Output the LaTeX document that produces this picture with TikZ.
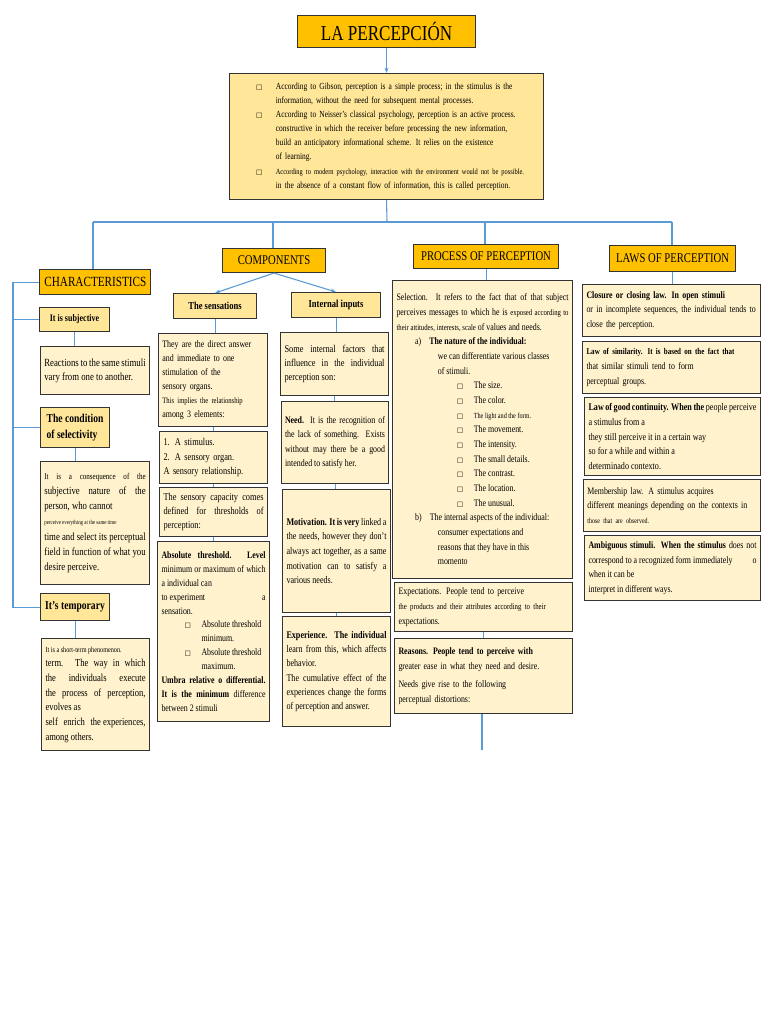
\documentclass[tikz,border=0pt]{standalone}
\usepackage{fontspec}
\setmainfont{Liberation Serif}[FakeStretch=0.8]
\newfontfamily\symf{DejaVu Sans}
\newcommand\bul{{\symf\fontsize{5}{5}\selectfont □}\hspace{4pt}}
\definecolor{hdr}{HTML}{FFC000}
\definecolor{sub}{HTML}{FFE699}
\definecolor{bod}{HTML}{FFF2CC}
\definecolor{ln}{HTML}{5B9BD5}
\usetikzlibrary{arrows.meta}
\tikzset{
 base/.style={draw=black!80, line width=0.8pt, anchor=north west, inner sep=2.5pt, align=left, font=\fontsize{7.5}{10}\selectfont},
 hdrbox/.style={base, fill=hdr, align=center, font=\fontsize{10}{11}\selectfont},
 subbox/.style={base, fill=sub, align=left, font=\fontsize{8}{10}\selectfont\bfseries},
 bodbox/.style={base, fill=bod},
 conn/.style={draw=ln, line width=0.8pt},
 arr/.style={conn, -{Stealth[length=4pt]}}
}
\begin{document}
\begin{tikzpicture}[x=0.75pt,y=-0.75pt]
\lefthyphenmin=64 \righthyphenmin=64
\useasboundingbox (0,0) rectangle (768,1024);
\fill[white] (0,0) rectangle (768,1024);
\coordinate (L) at (13,0);
% title
\node[hdrbox, minimum width=178*0.75pt, minimum height=32*0.75pt, font=\fontsize{16}{17}\selectfont] (title) at (297,15) {LA PERCEPCIÓN};
\node[base, fill=sub, minimum width=314*0.75pt, minimum height=126*0.75pt, text width=226pt, font=\fontsize{7}{10.6}\selectfont] (intro) at (229,73) {%
\hspace*{30pt}\llap{\bul\hspace{6pt}}According to Gibson, perception is a simple process; in the stimulus is the\\
\hspace*{30pt}information, without the need for subsequent mental processes.\\
\hspace*{30pt}\llap{\bul\hspace{6pt}}According to Neisser's classical psychology, perception is an active process.\\
\hspace*{30pt}constructive in which the receiver before processing the new information,\\
\hspace*{30pt}build an anticipatory informational scheme. It relies on the existence\\
\hspace*{30pt}of learning.\\
\hspace*{30pt}\llap{\bul\hspace{6pt}}{\fontsize{6}{10.6}\selectfont According to modern psychology, interaction with the environment would not be possible.}\\
\hspace*{30pt}in the absence of a constant flow of information, this is called perception.};
\draw[arr] (title.south) -- (intro.north);
% headers
\node[hdrbox, minimum width=111*0.75pt, minimum height=25*0.75pt, text width=76pt, font=\fontsize{10.5}{11}\selectfont] (char) at (39,269) {CHARACTERISTICS};
\node[hdrbox, minimum width=103*0.75pt, minimum height=24*0.75pt] (comp) at (222,248) {COMPONENTS};
\node[hdrbox, minimum width=145*0.75pt, minimum height=24*0.75pt] (proc) at (413,244) {PROCESS OF PERCEPTION};
\node[hdrbox, minimum width=126*0.75pt, minimum height=26*0.75pt] (laws) at (609,245) {LAWS OF PERCEPTION};
\coordinate (hub) at (387,222);
\draw[conn] (intro.south) -- (hub);
\draw[conn] (93,222) -- (672,222);
\draw[conn] (93,222) -- (93,269);
\draw[conn] (273,222) -- (273,248);
\draw[conn] (485,222) -- (485,244);
\draw[conn] (672,222) -- (672,245);
% components subs
\node[subbox, minimum width=83*0.75pt, minimum height=25*0.75pt, align=center] (sens) at (173,293) {The sensations};
\node[subbox, minimum width=89*0.75pt, minimum height=25*0.75pt, align=center] (intin) at (291,292) {Internal inputs};
\draw[arr] (comp.south) -- (sens.north);
\draw[arr] (comp.south) -- (intin.north);
% characteristics
\node[subbox, minimum width=70*0.75pt, minimum height=24*0.75pt, font=\fontsize{7.5}{10}\selectfont\bfseries] (subj) at (39,307) {It is subjective};
\node[bodbox, minimum width=109*0.75pt, minimum height=48*0.75pt, text width=76pt, align=justify, font=\fontsize{8.2}{10.5}\selectfont] (react) at (40,346) {Reactions to the same stimuli vary from one to another.};
\node[subbox, minimum width=69*0.75pt, minimum height=40*0.75pt, font=\fontsize{9}{12.5}\selectfont\bfseries] (sel) at (40,407) {The condition\\of selectivity};
\node[bodbox, minimum width=109*0.75pt, minimum height=123*0.75pt, text width=76pt, align=justify, font=\fontsize{8.2}{11.3}\selectfont] (cons) at (40,461) {{\fontsize{6.6}{11.3}\selectfont It is a consequence of the} subjective nature of the person, who cannot\\{\fontsize{4.6}{11.3}\selectfont perceive everything at the same time}\\time and select its perceptual field in function of what you desire perceive.};
\node[subbox, minimum width=69*0.75pt, minimum height=27*0.75pt, font=\fontsize{9}{11}\selectfont\bfseries] (temp) at (40,593) {It's temporary};
\node[bodbox, minimum width=108*0.75pt, minimum height=112*0.75pt, text width=75pt, align=justify, font=\fontsize{8}{11}\selectfont] (short) at (41,638) {{\fontsize{5.8}{11}\selectfont It is a short-term phenomenon.}\\term. The way in which the individuals execute the process of perception, evolves as\\self \hfill enrich \hfill the experiences, among others.};
\draw[conn] (char.west) -- (L |- char.west) -- (L |- temp.west) -- (temp.west);
\draw[conn] (L |- subj.west) -- (subj.west);
\draw[conn] (L |- sel.west) -- (sel.west);
\draw[conn] (subj.south) -- (subj.south |- react.north);
\draw[conn] (sel.south) -- (sel.south |- cons.north);
\draw[conn] (temp.south) -- (temp.south |- short.north);
% sensations column
\node[bodbox, minimum width=109*0.75pt, minimum height=93*0.75pt, text width=76pt, font=\fontsize{7.4}{10.6}\selectfont] (s1) at (158,333) {They are the direct answer and immediate to one\\stimulation of the\\sensory organs.\\{\fontsize{6.2}{10.6}\selectfont This implies the relationship}\\among 3 elements:};
\node[bodbox, minimum width=108*0.75pt, minimum height=52*0.75pt, text width=75pt, font=\fontsize{7.8}{10.6}\selectfont] (s2) at (159,431) {1. A stimulus.\\2. A sensory organ.\\A sensory relationship.};
\node[bodbox, minimum width=108*0.75pt, minimum height=49*0.75pt, text width=75pt, align=justify, font=\fontsize{7.8}{10.6}\selectfont] (s3) at (159,487) {The sensory capacity comes defined for thresholds of perception:};
\node[bodbox, minimum width=112*0.75pt, minimum height=180*0.75pt, text width=78pt, align=justify, font=\fontsize{7.4}{10.4}\selectfont] (s4) at (157,541) {\textbf{Absolute threshold. Level} minimum or maximum of which a individual can\\to experiment \hfill a\\sensation.\\
\hspace*{30pt}\llap{\bul\hspace{4pt}}Absolute threshold\\\hspace*{30pt}minimum.\\
\hspace*{30pt}\llap{\bul\hspace{4pt}}Absolute threshold\\\hspace*{30pt}maximum.\\
\textbf{Umbra relative o differential. It is the minimum} difference between 2 stimuli};
\draw[conn] (sens.south) -- (sens.south |- s1.north);
\draw[conn] (s1.south) -- (s1.south |- s2.north);
\draw[conn] (s2.south) -- (s2.south |- s3.north);
\draw[conn] (s3.south) -- (s3.south |- s4.north);
% internal column
\node[bodbox, minimum width=108*0.75pt, minimum height=63*0.75pt, text width=75pt, align=justify, font=\fontsize{7.8}{10.8}\selectfont] (i1) at (280,332) {Some internal factors that influence in the individual perception son:};
\node[bodbox, minimum width=107*0.75pt, minimum height=82*0.75pt, text width=75pt, align=justify, font=\fontsize{7.4}{10.8}\selectfont] (i2) at (281,401) {\textbf{Need.} It is the recognition of the lack of something. Exists without may there be a good intended to satisfy her.};
\node[bodbox, minimum width=108*0.75pt, minimum height=123*0.75pt, text width=75pt, align=justify, font=\fontsize{7.6}{11}\selectfont] (i3) at (282,489) {\textbf{Motivation. It is very} linked a the needs, however they don't always act together, as a same motivation can to satisfy a various needs.};
\node[bodbox, minimum width=108*0.75pt, minimum height=110*0.75pt, text width=75pt, align=justify, font=\fontsize{7.6}{10.6}\selectfont] (i4) at (282,616) {\textbf{Experience. The individual} learn from this, which affects behavior.\\The cumulative effect of the experiences change the forms of perception and answer.};
\draw[conn] (intin.south) -- (intin.south |- i1.north);
\draw[conn] (i1.south) -- (i1.south |- i2.north);
\draw[conn] (i2.south) -- (i2.south |- i3.north);
\draw[conn] (i3.south) -- (i3.south |- i4.north);
% process column
\node[bodbox, minimum width=180*0.75pt, minimum height=298*0.75pt, text width=129pt, align=justify, font=\fontsize{7.4}{11}\selectfont] (p1) at (392,280) {Selection. It refers to the fact that of that subject perceives messages to which he is {\fontsize{6.3}{11}\selectfont exposed according to their attitudes, interests, scale} of values and needs.\\
\hspace*{14pt}a)\hspace{6pt}\textbf{The nature of the individual:}\\
\hspace*{31pt}we can differentiate various classes\\
\hspace*{31pt}of stimuli.\\
\hspace*{58pt}\llap{\bul\hspace{4pt}}The size.\\
\hspace*{58pt}\llap{\bul\hspace{4pt}}The color.\\
\hspace*{58pt}\llap{\bul\hspace{4pt}}{\fontsize{5.8}{11}\selectfont The light and the form.}\\
\hspace*{58pt}\llap{\bul\hspace{4pt}}The movement.\\
\hspace*{58pt}\llap{\bul\hspace{4pt}}The intensity.\\
\hspace*{58pt}\llap{\bul\hspace{4pt}}The small details.\\
\hspace*{58pt}\llap{\bul\hspace{4pt}}The contrast.\\
\hspace*{58pt}\llap{\bul\hspace{4pt}}The location.\\
\hspace*{58pt}\llap{\bul\hspace{4pt}}The unusual.\\
\hspace*{14pt}b)\hspace{6pt}The internal aspects of the individual:\\
\hspace*{31pt}consumer expectations and\\
\hspace*{31pt}reasons that they have in this\\
\hspace*{31pt}momento};
\node[bodbox, minimum width=178*0.75pt, minimum height=49*0.75pt, text width=127.5pt, font=\fontsize{7.4}{11}\selectfont] (p2) at (394,582) {Expectations. People tend to perceive\\{\fontsize{6.4}{11}\selectfont the products and their attributes according to their}\\expectations.};
\node[bodbox, minimum width=178*0.75pt, minimum height=75*0.75pt, text width=127.5pt, font=\fontsize{7.4}{11}\selectfont] (p3) at (394,638) {\textbf{Reasons. People tend to perceive with}\\greater ease in what they need and desire.\\[3pt]Needs give rise to the following\\perceptual distortions:};
\coordinate (pend) at (482,750);
\draw[conn] (proc.south) -- (proc.south |- p1.north);
\draw[conn] (p2.south) -- (p2.south |- p3.north);
\draw[conn] (pend |- p3.south) -- (pend);
% laws column
\node[bodbox, minimum width=178*0.75pt, minimum height=52*0.75pt, text width=127.5pt, font=\fontsize{7.4}{11}\selectfont] (l1) at (582,284) {\textbf{Closure or closing law. In open stimuli}\\or in incomplete sequences, the individual tends to close the perception.};
\node[bodbox, minimum width=178*0.75pt, minimum height=52*0.75pt, text width=127.5pt, font=\fontsize{7.4}{11}\selectfont] (l2) at (582,341) {{\fontsize{6.6}{11}\selectfont\textbf{Law of similarity. It is based on the fact that}}\\that similar stimuli tend to form\\perceptual groups.};
\node[bodbox, minimum width=176*0.75pt, minimum height=78*0.75pt, text width=126pt, align=justify, font=\fontsize{7.6}{11}\selectfont] (l3) at (584,397) {\textbf{Law of good continuity. When the} people perceive a stimulus from a\\they still perceive it in a certain way\\so for a while and within a\\determinado contexto.};
\node[bodbox, minimum width=177*0.75pt, minimum height=52*0.75pt, text width=127pt, font=\fontsize{7.4}{11}\selectfont] (l4) at (583,479) {Membership law. A stimulus acquires\\different meanings depending on the contexts in\\{\fontsize{5.6}{11}\selectfont those that are observed.}};
\node[bodbox, minimum width=176*0.75pt, minimum height=65*0.75pt, text width=126pt, align=justify, font=\fontsize{7.4}{11}\selectfont] (l5) at (584,535) {\textbf{Ambiguous stimuli. When the stimulus} does not correspond to a recognized form immediately \hfill o \hfill when it can be\\interpret in different ways.};
\draw[conn] (laws.south) -- (laws.south |- l1.north);
\end{tikzpicture}
\end{document}
